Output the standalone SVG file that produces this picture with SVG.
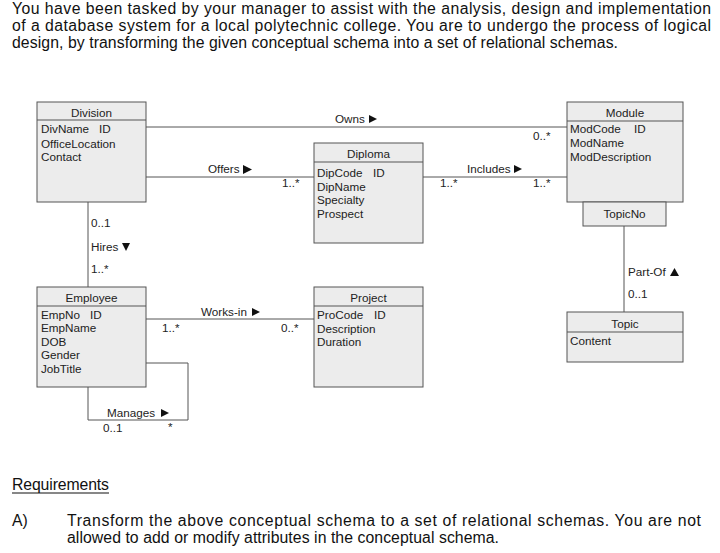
<svg xmlns="http://www.w3.org/2000/svg" width="720" height="553" viewBox="0 0 720 553">
<style>
.para{font-family:"Liberation Sans",Arial,sans-serif;font-size:15.8px;fill:#111}
.t{font-family:"Liberation Sans",Arial,sans-serif;font-size:11.7px;fill:#222}
.h{text-anchor:middle}
.box{fill:#ececec;stroke:#555;stroke-width:1}
.sep{stroke:#555;stroke-width:1}
.ln{fill:none;stroke:#555;stroke-width:1}
.tri{fill:#111}
</style>
<rect width="720" height="553" fill="#fff"/>
<g id="paragraph">
<text class="para" x="12" y="14" textLength="699" lengthAdjust="spacing">You have been tasked by your manager to assist with the analysis, design and implementation</text>
<text class="para" x="12" y="31" textLength="699" lengthAdjust="spacing">of a database system for a local polytechnic college.  You are to undergo the process of logical</text>
<text class="para" x="12" y="48" textLength="606" lengthAdjust="spacing">design, by transforming the given conceptual schema into a set of relational schemas.</text>
</g>
<g id="connectors">
<line class="ln" x1="146" y1="127" x2="567" y2="127"/>
<line class="ln" x1="146" y1="177" x2="314" y2="177"/>
<line class="ln" x1="423" y1="177" x2="567" y2="177"/>
<line class="ln" x1="88" y1="202" x2="88" y2="287"/>
<line class="ln" x1="146" y1="319" x2="314" y2="319"/>
<polyline class="ln" points="146,363 188,363 188,420 88,420 88,387"/>
<line class="ln" x1="624" y1="226" x2="624" y2="312"/>
<text class="t" x="335" y="123">Owns</text>
<polygon class="tri" points="369,115 377,119 369,123"/>
<text class="t" x="533" y="140">0..*</text>
<text class="t" x="208" y="173">Offers</text>
<polygon class="tri" points="243,165 252,169.5 243,174"/>
<text class="t" x="282" y="187">1..*</text>
<text class="t" x="467" y="173">Includes</text>
<polygon class="tri" points="514,165 522,169 514,173"/>
<text class="t" x="440" y="187">1..*</text>
<text class="t" x="533" y="187">1..*</text>
<text class="t" x="91" y="227">0..1</text>
<text class="t" x="91" y="251">Hires</text>
<polygon class="tri" points="122,243 130,243 126,251"/>
<text class="t" x="91" y="273">1..*</text>
<text class="t" x="201" y="316">Works-in</text>
<polygon class="tri" points="252,308 260,312 252,316"/>
<text class="t" x="162" y="332">1..*</text>
<text class="t" x="281" y="332">0..*</text>
<text class="t" x="107" y="417">Manages</text>
<polygon class="tri" points="161,409 169,413 161,417"/>
<text class="t" x="103" y="432">0..1</text>
<text class="t" x="168" y="431">*</text>
<text class="t" x="628" y="276">Part-Of</text>
<polygon class="tri" points="670,276 679,276 674.5,268"/>
<text class="t" x="628" y="298">0..1</text>
</g>
<g id="division">
<rect class="box" x="37" y="102" width="109" height="100"/>
<line class="sep" x1="37" y1="120" x2="146" y2="120"/>
<text class="t h" x="91.5" y="117">Division</text>
<text class="t" x="41" y="133">DivName<tspan x="99">ID</tspan></text>
<text class="t" x="41" y="147.5">OfficeLocation</text>
<text class="t" x="41" y="161">Contact</text>
</g>
<g id="module">
<rect class="box" x="567" y="102" width="116" height="100"/>
<line class="sep" x1="567" y1="121" x2="683" y2="121"/>
<text class="t h" x="625" y="117">Module</text>
<text class="t" x="570" y="133">ModCode<tspan x="634">ID</tspan></text>
<text class="t" x="570" y="147">ModName</text>
<text class="t" x="570" y="160.5">ModDescription</text>
</g>
<g id="topicno">
<rect class="box" x="583" y="202" width="83" height="24"/>
<text class="t h" x="624.5" y="218">TopicNo</text>
</g>
<g id="diploma">
<rect class="box" x="314" y="143" width="109" height="100"/>
<line class="sep" x1="314" y1="162" x2="423" y2="162"/>
<text class="t h" x="368.5" y="158">Diploma</text>
<text class="t" x="317" y="177">DipCode<tspan x="373">ID</tspan></text>
<text class="t" x="317" y="190.5">DipName</text>
<text class="t" x="317" y="204">Specialty</text>
<text class="t" x="317" y="217.5">Prospect</text>
</g>
<g id="employee">
<rect class="box" x="37" y="287" width="109" height="100"/>
<line class="sep" x1="37" y1="306" x2="146" y2="306"/>
<text class="t h" x="91.5" y="302">Employee</text>
<text class="t" x="41" y="318.5">EmpNo<tspan x="90">ID</tspan></text>
<text class="t" x="41" y="332">EmpName</text>
<text class="t" x="41" y="345.5">DOB</text>
<text class="t" x="41" y="359">Gender</text>
<text class="t" x="41" y="372.5">JobTitle</text>
</g>
<g id="project">
<rect class="box" x="314" y="287" width="109" height="100"/>
<line class="sep" x1="314" y1="306" x2="423" y2="306"/>
<text class="t h" x="368.5" y="302">Project</text>
<text class="t" x="317" y="319">ProCode<tspan x="374">ID</tspan></text>
<text class="t" x="317" y="332.5">Description</text>
<text class="t" x="317" y="346">Duration</text>
</g>
<g id="topic">
<rect class="box" x="567" y="312" width="116" height="50"/>
<line class="sep" x1="567" y1="332" x2="683" y2="332"/>
<text class="t h" x="625" y="328">Topic</text>
<text class="t" x="570" y="345">Content</text>
</g>
<g id="requirements">
<text class="para" x="12" y="490" textLength="97" lengthAdjust="spacing">Requirements</text>
<line x1="12" y1="493" x2="109" y2="493" stroke="#111" stroke-width="1.2"/>
<text class="para" x="12" y="526">A)</text>
<text class="para" x="67" y="526" textLength="634" lengthAdjust="spacing">Transform the above conceptual schema to a set of relational schemas. You are not</text>
<text class="para" x="67" y="543" textLength="432" lengthAdjust="spacing">allowed to add or modify attributes in the conceptual schema.</text>
</g>
</svg>
